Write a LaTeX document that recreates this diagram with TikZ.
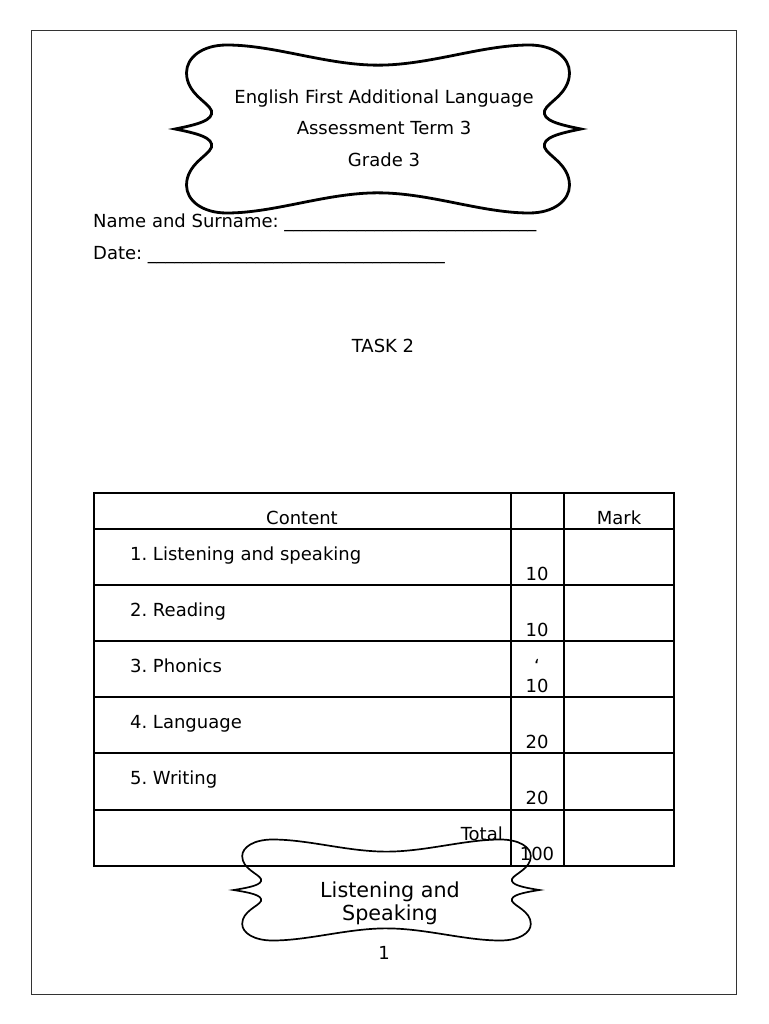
\documentclass[tikz,border=0pt]{standalone}
\usepackage{fontspec}
\setmainfont{DejaVu Sans}
\tikzset{
    label text/.style={anchor=base, inner sep=0pt, font=\fontsize{18}{20}\selectfont},
    big text/.style={anchor=base, inner sep=0pt, font=\fontsize{20.7}{22}\selectfont},
    left text/.style={label text, anchor=base west},
    grid line/.style={line width=1.8pt},
    plaque/.pic={
        \draw[line width=\pgfkeysvalueof{/tikz/plaque width}, miter limit=30]
            (0,.76) .. controls (.25,.76) and (.5,1) .. (.73,1)
            .. controls (.85,1) and (.925,.85) .. (.925,.67)
            .. controls (.925,.42) and (.82,.32) .. (.805,.22)
            .. controls (.79,.1) and (.88,.05) .. (.98,0)
            .. controls (.88,-.05) and (.79,-.1) .. (.805,-.22)
            .. controls (.82,-.32) and (.925,-.42) .. (.925,-.67)
            .. controls (.925,-.85) and (.85,-1) .. (.73,-1)
            .. controls (.5,-1) and (.25,-.76) .. (0,-.76)
            .. controls (-.25,-.76) and (-.5,-1) .. (-.73,-1)
            .. controls (-.85,-1) and (-.925,-.85) .. (-.925,-.67)
            .. controls (-.925,-.42) and (-.82,-.32) .. (-.805,-.22)
            .. controls (-.79,-.1) and (-.88,-.05) .. (-.98,0)
            .. controls (-.88,.05) and (-.79,.1) .. (-.805,.22)
            .. controls (-.82,.32) and (-.925,.42) .. (-.925,.67)
            .. controls (-.925,.85) and (-.85,1) .. (-.73,1)
            .. controls (-.5,1) and (-.25,.76) .. cycle;
    },
    plaque width/.initial=2pt
}
\begin{document}
\begin{tikzpicture}[x=1pt, y=-1pt]
    \useasboundingbox (0,0) rectangle (768,1024);
    % page frame
    \draw[line width=0.8pt, black!80] (31.5,30) rectangle (736,994);

    % top plaque
    \pic[xscale=207, yscale=84, plaque width=2.8pt] at (378,129) {plaque};
    \node[label text] (subject) at (384,104) {English First Additional Language};
    \node[label text] (term) at (384,135) {Assessment Term 3};
    \node[label text] (grade) at (384,167) {Grade 3};

    \node[left text] (name) at (93,227) {Name and Surname:\kern-2pt{} \_\_\_\_\_\_\_\_\_\_\_\_\_\_\_\_\_\_\_\_\_\_\_\_\_\_\_\_};
    \node[left text] (date) at (93,259) {Date:\kern-2pt{} \_\_\_\_\_\_\_\_\_\_\_\_\_\_\_\_\_\_\_\_\_\_\_\_\_\_\_\_\_\_\_\_\_};
    \node[label text] (task) at (383,352) {TASK 2};

    % table
    \draw[grid line] (94,493) rectangle (674,866);
    \draw[grid line] (511,493)--(511,866);
    \draw[grid line] (564,493)--(564,866);
    \draw[grid line] (94,529)--(674,529);
    \draw[grid line] (94,585)--(674,585);
    \draw[grid line] (94,641)--(674,641);
    \draw[grid line] (94,697)--(674,697);
    \draw[grid line] (94,753)--(674,753);
    \draw[grid line] (94,810)--(674,810);

    \node[label text] (content) at (302,524) {Content};
    \node[label text] (mark) at (619,524) {Mark};
    \node[left text] (listening) at (130,560) {1.\kern-2pt{} Listening and speaking};
    \node[left text] (reading) at (130,616) {2.\kern-2pt{} Reading};
    \node[left text] (phonics) at (130,672) {3.\kern-2pt{} Phonics};
    \node[left text] (language) at (130,728) {4.\kern-2pt{} Language};
    \node[left text] (writing) at (130,784) {5.\kern-2pt{} Writing};
    \node[label text] (val a) at (537,580) {10};
    \node[label text] (val b) at (537,636) {10};
    \node[label text] (tick) at (537,672) {‘};
    \node[label text] (val c) at (537,692) {10};
    \node[label text] (val d) at (537,748) {20};
    \node[label text] (val e) at (537,804) {20};
    \node[label text, anchor=base east] (total) at (503,840) {Total};
    \node[label text] (val f) at (537,860) {100};

    % bottom plaque
    \pic[xscale=156, yscale=50.5, plaque width=1.7pt] at (386.5,890) {plaque};
    \node[big text] (title a) at (390,897) {Listening and};
    \node[big text] (title b) at (390,920) {Speaking};
    \node[label text] (page) at (384,959) {1};
\end{tikzpicture}
\end{document}
